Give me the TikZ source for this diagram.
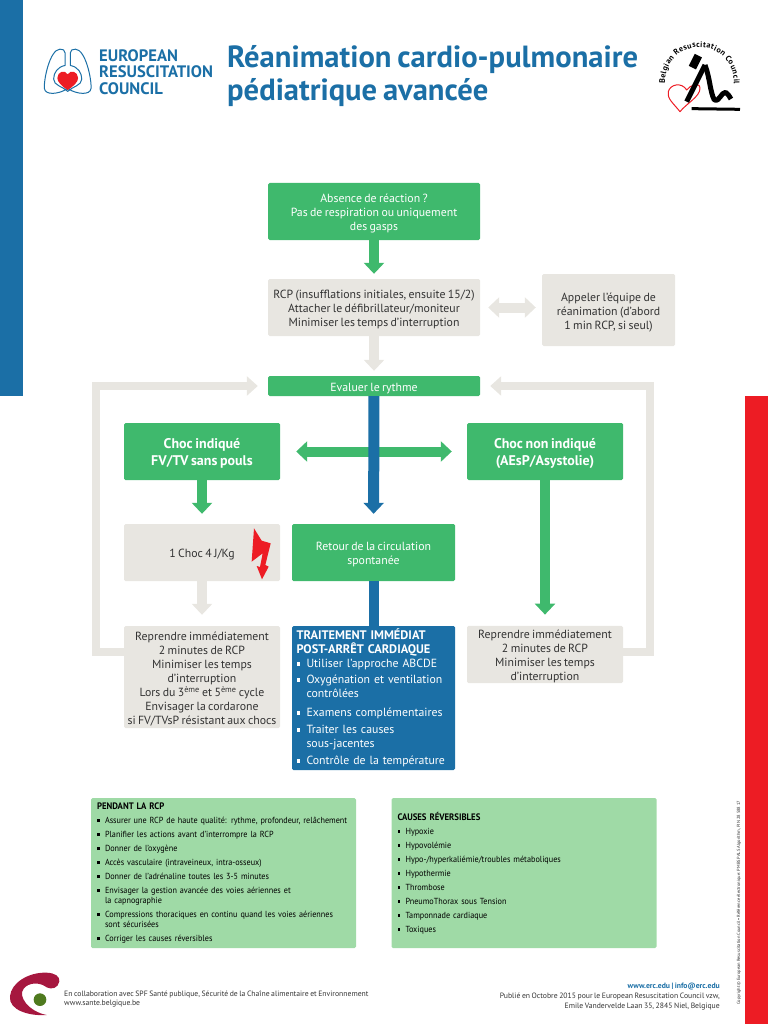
\documentclass[tikz,border=0pt]{standalone}
\usepackage{fontspec}
\setmainfont[WordSpace=0.75]{PT Sans}
\newfontfamily\panelfont[WordSpace=0.7,FakeStretch=0.93]{PT Sans}
\usetikzlibrary{arrows.meta,decorations.text}
\definecolor{ercblue}{HTML}{1B6FA6}
\definecolor{ercgreen}{HTML}{3FB96D}
\definecolor{ercgrey}{HTML}{E8E6E1}
\definecolor{ercred}{HTML}{ED1C24}
\definecolor{erclight}{HTML}{9FDAA6}
\definecolor{erctext}{HTML}{333333}
\definecolor{spfred}{HTML}{A6173F}
\definecolor{spfgreen}{HTML}{4F7A1F}
\newcommand{\rcpitem}[3]{\par\vspace{#1}\hangindent=#2\hangafter=1\noindent\hbox to #2{\rule[.15em]{.33em}{.33em}\hss}#3}
\newcommand{\lift}{\rule{0pt}{13pt}}
\tikzset{
  flowbox/.style={rounded corners=1.5pt, inner sep=0pt, align=center, font=\fontsize{11.8}{14}\selectfont},
  greenbox/.style={flowbox, fill=ercgreen, text=white},
  greybox/.style={flowbox, fill=ercgrey, text=erctext},
  panel/.style={rounded corners=1.5pt, inner sep=0pt, fill=erclight, text=black, minimum width=265pt, minimum height=150pt, text width=253pt, align=left, font=\panelfont\fontsize{8.8}{10.5}\selectfont},
  greenarrow/.style={draw=ercgreen, line width=10pt, -{Triangle[width=20pt,length=11pt]}},
  greyarrow/.style={draw=ercgrey, line width=10pt, -{Triangle[width=20pt,length=11pt]}},
  bluearrow/.style={draw=ercblue, line width=11pt, -{Triangle[width=20pt,length=11pt]}},
  greyloop/.style={draw=ercgrey, line width=8pt, -{Triangle[width=19pt,length=11pt]}},
  footer/.style={inner sep=0pt, text=erctext, font=\fontsize{7.7}{9.8}\selectfont}
}
\begin{document}
\begin{tikzpicture}[x=1pt,y=-1pt]
  \useasboundingbox (0,0) rectangle (768,1024);
  \fill[ercblue] (0,0) rectangle (23,396);
  \fill[ercred] (745,396) rectangle (768,1024);
  % header
  \node[inner sep=0pt, anchor=west, align=left, text=ercblue, font=\fontsize{16.6}{16.3}\selectfont\bfseries] (erc) at (99,72) {EUROPEAN\\RESUSCITATION\\COUNCIL};
  \node[inner sep=0pt, anchor=west, align=left, text=ercblue, font=\fontsize{30.6}{33}\selectfont\bfseries] (title) at (227,76.5) {Réanimation cardio-pulmonaire\\pédiatrique avancée};
  \begin{scope}[shift={(37,44)},x=.37pt,y=-.37pt]
    \fill[ercred] (83,125) .. controls (65,112) and (55,102) .. (55,92) .. controls (55,75) and (75,68) .. (83,82) .. controls (91,68) and (111,75) .. (111,92) .. controls (111,102) and (101,112) .. (83,125) -- cycle;
    \draw[ercblue, line width=1pt, line join=round] (80,122) .. controls (60,135) and (22,140) .. (20,120) .. controls (18,95) and (35,15) .. (62,14) .. controls (70,14) and (76,16) .. (76,24) -- (76,58) .. controls (55,62) and (45,78) .. (45,95) .. controls (45,112) and (70,115) .. (83,128) .. controls (96,115) and (121,112) .. (121,95) .. controls (121,78) and (111,62) .. (90,58) -- (90,24) .. controls (90,16) and (96,14) .. (104,14) .. controls (131,15) and (148,95) .. (146,120) .. controls (144,140) and (106,135) .. (86,122);
  \end{scope}
  \begin{scope}[shift={(655,35)},x=.3333pt,y=-.3333pt]
    \draw[ercred, line width=1pt, line join=round] (75,230) .. controls (55,205) and (35,190) .. (40,170) .. controls (45,148) and (80,140) .. (95,165) .. controls (105,150) and (135,140) .. (135,160) .. controls (135,185) and (95,205) .. (75,230) -- cycle;
    \draw[black, line width=8pt] (112,98) -- (130,62);
    \draw[black, line width=5pt, line join=round] (150,90) -- (95,200);
    \draw[black, line width=5pt, line join=round] (150,90) .. controls (165,130) and (165,170) .. (178,195) .. controls (190,205) and (200,170) .. (212,172) .. controls (220,175) and (222,185) .. (228,192);
    \draw[black, line width=3pt] (110,221) -- (255,223);
  \end{scope}
  \path[decorate, decoration={text along path, text align={fit to path}, text={|\fontsize{8}{9}\selectfont\bfseries|Belgian Resuscitation Council}}] (665,84) .. controls (665,35) and (734,35) .. (734,84);
  % flow boxes
  \node[greenbox, minimum width=212pt, minimum height=57pt] (start) at (374,211.5) {\lift Absence de réaction ?\\Pas de respiration ou uniquement\\des gasps};
  \node[greybox, minimum width=212pt, minimum height=57pt] (cpr) at (374,307.5) {\lift RCP (insufflations initiales, ensuite 15/2)\\Attacher le défibrillateur/moniteur\\Minimiser les temps d’interruption};
  \node[greybox, minimum width=133pt, minimum height=72pt] (call) at (608.5,310) {\lift Appeler l’équipe de\\réanimation (d’abord\\1 min RCP, si seul)};
  \node[greenbox, minimum width=212pt, minimum height=20pt] (rhythm) at (374,386) {\lift Evaluer le rythme};
  \node[greenbox, minimum width=156pt, minimum height=57pt, font=\fontsize{14}{16.5}\selectfont\bfseries] (shock) at (202,451.5) {\rule{0pt}{14pt}Choc indiqué\\FV/TV sans pouls};
  \node[greenbox, minimum width=156pt, minimum height=57pt, font=\fontsize{14}{16.5}\selectfont\bfseries] (noshock) at (545,451.5) {\rule{0pt}{14pt}Choc non indiqué\\(AEsP/Asystolie)};
  \node[greybox, minimum width=156pt, minimum height=57pt] (choc) at (202,552.5) {\lift 1 Choc 4 J/Kg};
  \node[greenbox, minimum width=163pt, minimum height=57pt] (rosc) at (373.5,552.5) {\lift Retour de la circulation\\spontanée};
  \node[greybox, minimum width=156pt, minimum height=102pt] (resumeL) at (202,677) {\lift Reprendre immédiatement\\2 minutes de RCP\\Minimiser les temps\\d’interruption\\Lors du 3\textsuperscript{ème} et 5\textsuperscript{ème} cycle\\Envisager la cordarone\\si FV/TVsP résistant aux chocs};
  \node[greybox, minimum width=156pt, minimum height=57pt] (resumeR) at (545,654.5) {\lift Reprendre immédiatement\\2 minutes de RCP\\Minimiser les temps\\d’interruption};
  \node[flowbox, fill=ercblue, text=white, minimum width=163pt, minimum height=144pt, text width=154pt, align=left] (post) at (373.5,698) {{\fontsize{12.4}{14}\selectfont\bfseries TRAITEMENT IMMÉDIAT\newline POST-ARRÊT CARDIAQUE}
    \rcpitem{0pt}{10pt}{Utiliser l’approche ABCDE}
    \rcpitem{2pt}{10pt}{Oxygénation et ventilation\newline contrôlées}
    \rcpitem{5pt}{10pt}{Examens complémentaires}
    \rcpitem{3.5pt}{10pt}{Traiter les causes\newline sous-jacentes}
    \rcpitem{3pt}{10pt}{Contrôle de la température}};
  % connectors
  \draw[greenarrow, shorten >=5pt] (start) -- (cpr);
  \draw[greyarrow, shorten >=5pt] (cpr) -- (rhythm);
  \draw[greyarrow, {Triangle[width=20pt,length=11pt]}-{Triangle[width=20pt,length=11pt]}, shorten <=8pt, shorten >=6pt] (cpr) -- (cpr -| call.west);
  \draw[greenarrow, {Triangle[width=20pt,length=11pt]}-{Triangle[width=20pt,length=11pt]}, shorten <=16pt, shorten >=15pt] (shock) -- (noshock);
  \draw[bluearrow, shorten >=10pt] (rhythm) -- (rosc);
  \draw[greenarrow, shorten >=10pt] (shock) -- (choc);
  \draw[greyarrow, shorten >=11pt] (choc) -- (resumeL.north);
  \draw[greenarrow, shorten >=11pt] (noshock) -- (resumeR);
  \draw[draw=ercblue, line width=10pt] (rosc) -- (post.north -| rosc);
  \coordinate (loopL) at (96,386);
  \coordinate (loopR) at (650,386);
  \draw[greyloop, shorten >=10pt] ([yshift=-26pt]resumeL.north west) -| (loopL) -- (rhythm.west);
  \draw[greyloop, shorten >=10pt] ([yshift=-26pt]resumeR.north east) -| (loopR) -- (rhythm.east);
  % lightning bolt
  \begin{scope}[shift={(240,520)},x=.3333pt,y=-.3333pt]
    \fill[ercred] (42,25) -- (65,62) -- (92,70) -- (76,135) -- (86,140) -- (66,178) -- (50,138) -- (60,141) -- (68,100) -- (35,125) -- cycle;
  \end{scope}
  % panels
  \node[panel] (during) at (223.5,873) {{\fontsize{9.4}{10.5}\selectfont\bfseries PENDANT LA RCP}
    \rcpitem{3.5pt}{8pt}{Assurer une RCP de haute qualité: rythme, profondeur, relâchement}
    \rcpitem{3.5pt}{8pt}{Planifier les actions avant d’interrompre la RCP}
    \rcpitem{3.5pt}{8pt}{Donner de l’oxygène}
    \rcpitem{3.5pt}{8pt}{Accès vasculaire (intraveineux, intra-osseux)}
    \rcpitem{3.5pt}{8pt}{Donner de l’adrénaline toutes les 3-5 minutes}
    \rcpitem{3.5pt}{8pt}{Envisager la gestion avancée des voies aériennes et\newline la capnographie}
    \rcpitem{3pt}{8pt}{Compressions thoraciques en continu quand les voies aériennes\newline sont sécurisées}
    \rcpitem{3pt}{8pt}{Corriger les causes réversibles}};
  \node[panel] (causes) at (524,873) {{\fontsize{9.4}{10.5}\selectfont\bfseries CAUSES RÉVERSIBLES}
    \rcpitem{3.5pt}{8pt}{Hypoxie}
    \rcpitem{3.5pt}{8pt}{Hypovolémie}
    \rcpitem{3.5pt}{8pt}{Hypo-/hyperkaliémie/troubles métaboliques}
    \rcpitem{3.5pt}{8pt}{Hypothermie}
    \rcpitem{3.5pt}{8pt}{Thrombose}
    \rcpitem{3.5pt}{8pt}{PneumoThorax sous Tension}
    \rcpitem{3.5pt}{8pt}{Tamponnade cardiaque}
    \rcpitem{3.5pt}{8pt}{Toxiques}};
  % footer
  \begin{scope}[shift={(5,968)},x=.3333pt,y=-.3333pt]
    \fill[spfred] (125,141) .. controls (70,145) and (10,125) .. (15,85) .. controls (18,45) and (70,12) .. (125,14) .. controls (150,15) and (165,25) .. (163,40) .. controls (160,60) and (140,66) .. (125,58) .. controls (105,42) and (72,42) .. (56,62) .. controls (38,85) and (70,130) .. (125,141) -- cycle;
    \fill[spfgreen] (105,95) circle[radius=19];
  \end{scope}
  \node[footer, anchor=west, align=left] (spf) at (64,999) {En collaboration avec SPF Santé publique, Sécurité de la Chaîne alimentaire et Environnement\\www.sante.belgique.be};
  \node[footer, anchor=north east, align=right] (pub) at (720,983) {{\bfseries\color{ercblue}www.erc.edu | info@erc.edu}\\Publié en Octobre 2015 pour le European Resuscitation Council vzw,\\Emile Vandervelde Laan 35, 2845 Niel, Belgique};
  \node[inner sep=0pt, rotate=90, anchor=west, text=erctext, font=\fontsize{4.5}{5}\selectfont] (copy) at (739,1005) {Copyright © European Resuscitation Council • Référence électronique: PMBS PALS Algorithm, PIN 28 588 17};
\end{tikzpicture}
\end{document}
